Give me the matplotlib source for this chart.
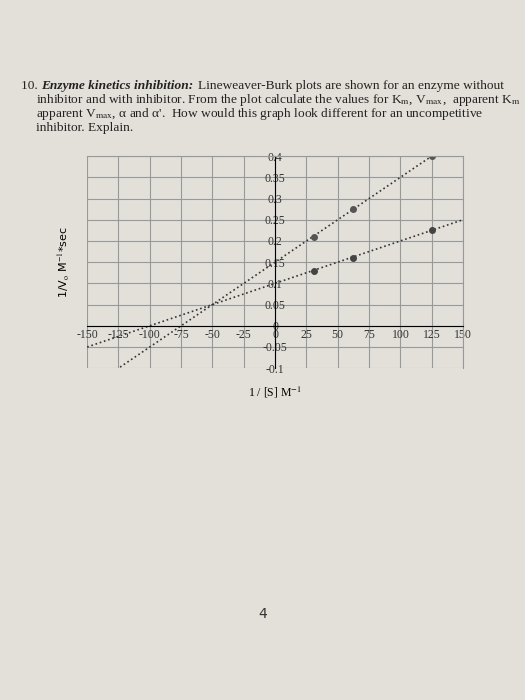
import matplotlib
matplotlib.use("Agg")
import matplotlib.pyplot as plt
import numpy as np

inv_s = [31.25, 62.5, 125]
inhib = [0.21, 0.275, 0.40]
no_inhib = [0.13, 0.16, 0.225]
line_inhib = (0.002, 0.15)
line_no = (0.001, 0.10)
xticks = [-150, -125, -100, -75, -50, -25, 0, 25, 50, 75, 100, 125, 150]
yticks = [-0.1, -0.05, 0, 0.05, 0.1, 0.15, 0.2, 0.25, 0.3, 0.35, 0.4]

bg = "#e3e0da"
plt.rcParams['font.family'] = ['Liberation Serif', 'DejaVu Serif']
plt.rcParams['mathtext.fontset'] = 'stix'
fig = plt.figure(figsize=(5.25, 7), dpi=100, facecolor=bg)
fig.canvas.draw()
r = fig.canvas.get_renderer()

fs = 9.6
t1 = fig.text(0.04, 0.873, "10. ", fontsize=fs, color="#222")
bb = t1.get_window_extent(r)
t2 = fig.text(bb.x1 / 525, 0.873, "Enzyme kinetics inhibition:", fontsize=fs, color="#222",
              weight="bold", style="italic")
bb = t2.get_window_extent(r)
fig.text(bb.x1 / 525 + 0.008, 0.873, "Lineweaver-Burk plots are shown for an enzyme without",
         fontsize=fs, color="#222")
fig.text(0.068, 0.853, r"inhibitor and with inhibitor. From the plot calculate the values for K$_\mathrm{m}$, V$_\mathrm{max}$,  apparent K$_\mathrm{m}$",
         fontsize=fs, color="#222")
fig.text(0.068, 0.833, r"apparent V$_\mathrm{max}$, α and α'.  How would this graph look different for an uncompetitive",
         fontsize=fs, color="#222")
fig.text(0.068, 0.813, "inhibitor. Explain.", fontsize=fs, color="#222")
fig.text(0.5, 0.117, "4", fontsize=10, ha="center", family="DejaVu Sans", color="#333")

ax = fig.add_axes([0.166, 0.474, 0.716, 0.303])
ax.set_facecolor(bg)
ax.set_xlim(-150, 150)
ax.set_ylim(-0.1, 0.4)
ax.set_xticks(xticks)
ax.set_yticks(yticks)
ax.grid(True, color="#999", lw=0.8)
for s in ["top", "right"]:
    ax.spines[s].set_color("#999")
ax.spines["left"].set_position(("data", 0))
ax.spines["bottom"].set_position(("data", 0))
ax.tick_params(length=0, labelsize=8.5, colors="#333", pad=2)
ax.tick_params(axis="y", pad=0)
ax.set_xticklabels([str(v) for v in xticks])
ax.set_yticklabels([("%g" % v) for v in yticks])
for lab in ax.get_yticklabels():
    lab.set_ha("center")

xx = np.array([-150, 150])
for (m, b) in [line_inhib, line_no]:
    ax.plot(xx, m * xx + b, ls=":", color="#333", lw=1.2)
ax.plot(inv_s, inhib, "o", color="#555", ms=4)
ax.plot(inv_s, no_inhib, "o", color="#444", ms=4)
ax.set_ylabel(r"1/V$_\mathrm{o}$ M$^{-1}$*sec", fontsize=8, family="DejaVu Sans")
ax.yaxis.set_label_coords(-0.04, 0.5)
ax.set_xlabel(r"1 / [S] M$^{-1}$", fontsize=8.5)
ax.xaxis.set_label_coords(0.5, -0.08)

fig.savefig("out.png", dpi=100, facecolor=bg)
